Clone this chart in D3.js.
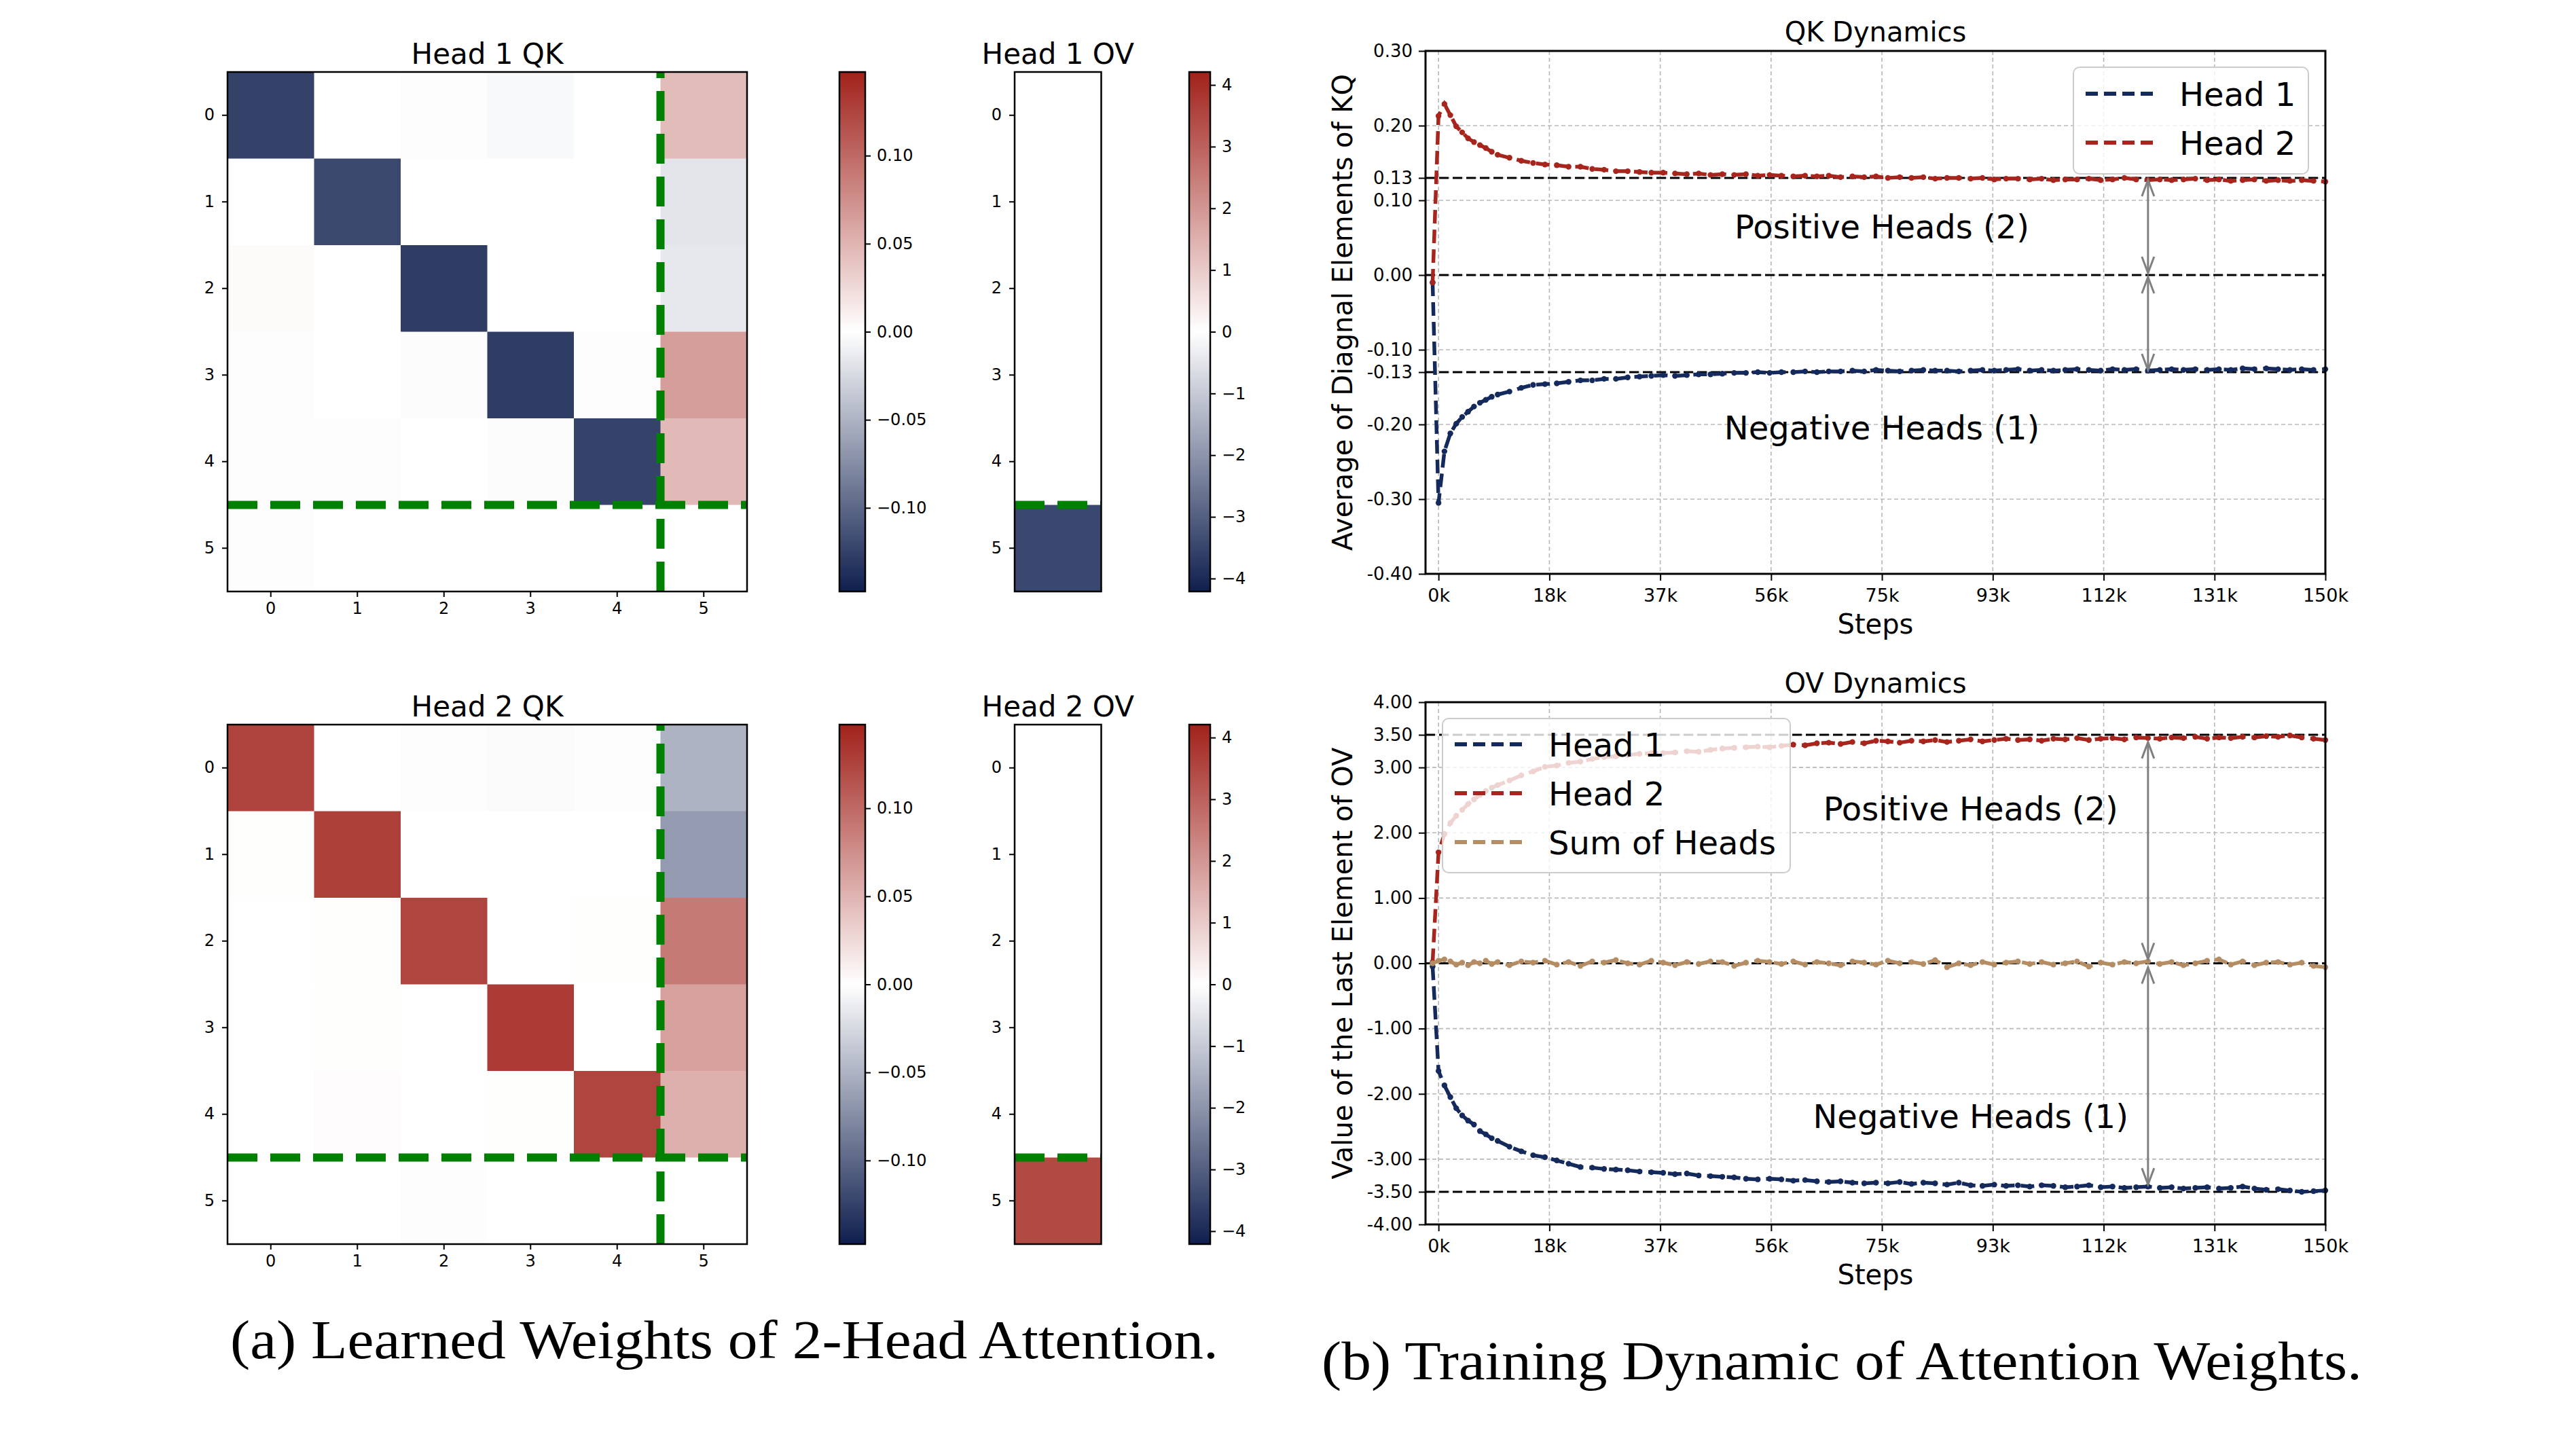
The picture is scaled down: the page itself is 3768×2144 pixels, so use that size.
<!DOCTYPE html>
<html lang="en">
<head>
<meta charset="utf-8">
<title>2-Head Attention weights</title>
<script src="https://cdn.jsdelivr.net/npm/d3@7"></script>
<style>
  body { margin: 0; background: #fff; }
  svg { display: block; font-family: "DejaVu Sans", sans-serif; }
</style>
</head>
<body>
<svg id="fig" width="3768" height="2144"></svg>
<script>
// ---- heatmap data (rows x cols) ----
const head1QK = [
  [-0.125, 0.000, -0.001, -0.004, 0.000, 0.045],
  [0.000, -0.120, 0.000, 0.000, 0.000, -0.017],
  [0.003, 0.000, -0.128, 0.000, 0.000, -0.015],
  [-0.001, 0.000, -0.002, -0.128, -0.001, 0.065],
  [-0.001, -0.001, 0.000, -0.002, -0.124, 0.047],
  [-0.001, 0.000, 0.000, 0.000, 0.000, 0.000]
];
const head2QK = [
  [0.125, 0.000, -0.001, -0.003, -0.001, -0.050],
  [0.001, 0.128, 0.000, 0.000, 0.000, -0.066],
  [0.000, 0.001, 0.124, 0.000, 0.001, 0.089],
  [0.000, 0.001, 0.000, 0.131, 0.000, 0.063],
  [0.000, 0.002, 0.000, 0.001, 0.124, 0.053],
  [0.000, 0.000, -0.001, 0.000, 0.000, 0.000]
];
const head1OV = [[0], [0], [0], [0], [0], [-3.45]];
const head2OV = [[0], [0], [0], [0], [0], [3.45]];
const qkVmax = 0.1475;
const ovVmax = 4.21;
const qkCbTicks = [0.10, 0.05, 0.00, -0.05, -0.10];
const ovCbTicks = [4, 3, 2, 1, 0, -1, -2, -3, -4];

// ---- training dynamics (steps in thousands) ----
const stepsK = [-1, 0, 1, 2, 3, 4, 5, 6, 7, 8, 9, 10, 12, 14, 16, 18, 20, 22, 24, 26, 28, 30,
  32, 34, 36, 38, 40, 42, 44, 46, 48, 50, 52, 54, 56, 58, 60, 62, 64, 66, 68, 70, 72, 74, 76,
  78, 80, 82, 84, 86, 88, 90, 92, 94, 96, 98, 100, 102, 104, 106, 108, 110, 112, 114, 116,
  118, 120, 122, 124, 126, 128, 130, 132, 134, 136, 138, 140, 142, 144, 146, 148, 150];

const qkHead1 = [-0.010, -0.305, -0.236, -0.212, -0.199, -0.190, -0.183, -0.176, -0.171, -0.167,
  -0.163, -0.160, -0.156, -0.151, -0.147, -0.146, -0.145, -0.143, -0.141, -0.141, -0.139, -0.139,
  -0.137, -0.136, -0.135, -0.134, -0.135, -0.134, -0.133, -0.133, -0.132, -0.131, -0.131, -0.130,
  -0.131, -0.130, -0.130, -0.129, -0.130, -0.129, -0.129, -0.128, -0.129, -0.127, -0.128, -0.129,
  -0.128, -0.127, -0.128, -0.128, -0.129, -0.128, -0.127, -0.128, -0.127, -0.126, -0.128, -0.127,
  -0.128, -0.127, -0.126, -0.127, -0.128, -0.126, -0.127, -0.126, -0.128, -0.127, -0.126, -0.127,
  -0.126, -0.127, -0.126, -0.127, -0.125, -0.126, -0.125, -0.126, -0.127, -0.126, -0.127, -0.126];

const qkHead2 = [-0.010, 0.213, 0.229, 0.214, 0.199, 0.191, 0.183, 0.178, 0.174, 0.170,
  0.165, 0.161, 0.157, 0.153, 0.150, 0.148, 0.147, 0.145, 0.145, 0.142, 0.141, 0.139,
  0.139, 0.138, 0.137, 0.137, 0.136, 0.135, 0.136, 0.134, 0.135, 0.134, 0.135, 0.133,
  0.134, 0.133, 0.132, 0.133, 0.132, 0.133, 0.131, 0.132, 0.131, 0.132, 0.130, 0.131,
  0.130, 0.131, 0.129, 0.130, 0.130, 0.129, 0.130, 0.128, 0.129, 0.129, 0.128, 0.129,
  0.127, 0.128, 0.128, 0.129, 0.127, 0.128, 0.130, 0.128, 0.127, 0.128, 0.127, 0.128,
  0.129, 0.127, 0.128, 0.126, 0.127, 0.128, 0.126, 0.127, 0.126, 0.127, 0.126, 0.125];

const ovHead1 = [-0.05, -1.65, -1.87, -2.05, -2.22, -2.33, -2.41, -2.47, -2.57, -2.62,
  -2.68, -2.72, -2.81, -2.88, -2.94, -2.97, -3.02, -3.07, -3.12, -3.13, -3.15, -3.16,
  -3.17, -3.19, -3.20, -3.21, -3.23, -3.22, -3.25, -3.26, -3.27, -3.28, -3.30, -3.31,
  -3.30, -3.31, -3.33, -3.32, -3.34, -3.35, -3.34, -3.36, -3.37, -3.36, -3.37, -3.35,
  -3.38, -3.36, -3.37, -3.39, -3.36, -3.40, -3.41, -3.39, -3.41, -3.40, -3.42, -3.40,
  -3.41, -3.43, -3.42, -3.40, -3.43, -3.42, -3.44, -3.43, -3.42, -3.44, -3.43, -3.45,
  -3.44, -3.43, -3.45, -3.44, -3.42, -3.45, -3.47, -3.46, -3.48, -3.50, -3.49, -3.48];

const ovHead2 = [0.02, 1.70, 1.98, 2.15, 2.26, 2.35, 2.44, 2.51, 2.58, 2.64,
  2.69, 2.73, 2.80, 2.88, 2.94, 3.01, 3.03, 3.07, 3.09, 3.13, 3.16, 3.17,
  3.19, 3.21, 3.22, 3.22, 3.23, 3.25, 3.24, 3.27, 3.29, 3.30, 3.31, 3.32,
  3.31, 3.33, 3.35, 3.34, 3.37, 3.38, 3.36, 3.39, 3.37, 3.41, 3.40, 3.38,
  3.41, 3.40, 3.42, 3.39, 3.41, 3.43, 3.40, 3.42, 3.44, 3.42, 3.43, 3.41,
  3.44, 3.43, 3.45, 3.42, 3.44, 3.45, 3.43, 3.46, 3.45, 3.44, 3.46, 3.45,
  3.47, 3.44, 3.46, 3.45, 3.47, 3.46, 3.48, 3.47, 3.49, 3.46, 3.44, 3.42];

const ovSum = [0.00, 0.04, 0.06, 0.03, -0.02, 0.01, -0.03, 0.02, 0.00, 0.04,
  -0.01, 0.02, -0.03, 0.03, 0.01, 0.04, -0.02, 0.02, -0.04, 0.03, 0.01, 0.05,
  0.00, -0.02, 0.04, 0.01, -0.03, 0.02, -0.01, 0.03, 0.02, -0.04, 0.01, 0.04,
  0.02, -0.01, 0.03, -0.02, 0.02, 0.00, -0.03, 0.03, 0.01, -0.02, 0.04, 0.00,
  0.02, -0.01, 0.05, -0.06, 0.00, -0.03, 0.02, -0.02, 0.01, 0.03, -0.01, 0.02,
  -0.02, 0.00, 0.03, -0.05, 0.01, -0.02, 0.02, 0.00, 0.03, -0.01, 0.02, -0.03,
  0.00, 0.04, 0.06, -0.02, 0.03, -0.03, 0.01, 0.02, -0.02, 0.01, -0.04, -0.06];

const xTickVals = [0, 18.75, 37.5, 56.25, 75, 93.75, 112.5, 131.25, 150];
const xTickLabels = ["0k", "18k", "37k", "56k", "75k", "93k", "112k", "131k", "150k"];
const qkYTicks = [0.30, 0.20, 0.13, 0.10, 0.00, -0.10, -0.13, -0.20, -0.30, -0.40];
const ovYTicks = [4, 3.5, 3, 2, 1, 0, -1, -2, -3, -3.5, -4];
const qkRefLines = [0.13, 0, -0.13];
const ovRefLines = [3.5, 0, -3.5];

// ---- styling ----
const NAVY = "#0f1f4e", RED = "#a1221b";
const LINE_NAVY = "#14295c", LINE_RED = "#a8251d", LINE_TAN = "#b58d64";
const GREEN = "#008000";
const CELL = 127.5;
const ROW_TOP = [106, 1067];

const svg = d3.select("#fig");
const defs = svg.append("defs");
const grad = defs.append("linearGradient").attr("id", "cmap")
  .attr("x1", 0).attr("y1", 1).attr("x2", 0).attr("y2", 0);
grad.append("stop").attr("offset", "0%").attr("stop-color", NAVY);
grad.append("stop").attr("offset", "50%").attr("stop-color", "#ffffff");
grad.append("stop").attr("offset", "100%").attr("stop-color", RED);

function styleAxis(sel, size) {
  sel.select(".domain").remove();
  sel.selectAll(".tick line").attr("stroke", "#000").attr("stroke-width", 2);
  sel.selectAll(".tick text").attr("font-size", size).attr("fill", "#000")
    .attr("font-family", "DejaVu Sans");
}

function heatmap(mat, left, top, vmax, title, showX) {
  const g = svg.append("g");
  const nR = mat.length, nC = mat[0].length;
  const x = d3.scaleBand().domain(d3.range(nC)).range([left, left + nC * CELL]);
  const y = d3.scaleBand().domain(d3.range(nR)).range([top, top + nR * CELL]);
  const color = d3.scaleLinear().domain([-vmax, 0, vmax]).range([NAVY, "#ffffff", RED]);
  const cells = [];
  mat.forEach((row, r) => row.forEach((v, c) => cells.push({ r, c, v })));
  g.selectAll("rect.cell").data(cells).join("rect").attr("class", "cell")
    .attr("x", d => x(d.c)).attr("y", d => y(d.r))
    .attr("width", x.bandwidth() + 0.5).attr("height", y.bandwidth() + 0.5)
    .attr("fill", d => color(d.v));

  const right = left + nC * CELL, bottom = top + nR * CELL;
  // green separators between the last row / column
  g.append("line").attr("x1", left).attr("x2", right)
    .attr("y1", y(nR - 1)).attr("y2", y(nR - 1))
    .attr("stroke", GREEN).attr("stroke-width", 12).attr("stroke-dasharray", "44,19");
  if (nC > 1) {
    g.append("line").attr("x1", x(nC - 1)).attr("x2", x(nC - 1))
      .attr("y1", bottom).attr("y2", top)
      .attr("stroke", GREEN).attr("stroke-width", 12).attr("stroke-dasharray", "44,19");
  }
  g.append("rect").attr("x", left).attr("y", top)
    .attr("width", right - left).attr("height", bottom - top)
    .attr("fill", "none").attr("stroke", "#000").attr("stroke-width", 2.5);

  const ax = g.append("g").attr("transform", `translate(${left},0)`)
    .call(d3.axisLeft(y).tickSize(8).tickPadding(11));
  styleAxis(ax, 24);
  if (showX) {
    const bx = g.append("g").attr("transform", `translate(0,${bottom})`)
      .call(d3.axisBottom(x).tickSize(8).tickPadding(8));
    styleAxis(bx, 24);
  }
  g.append("text").attr("x", (left + right) / 2).attr("y", top - 12)
    .attr("text-anchor", "middle").attr("font-size", 42).text(title);
}

function colorbar(left, top, w, vmax, ticks, fmt) {
  const h = 6 * CELL;
  const g = svg.append("g");
  g.append("rect").attr("x", left).attr("y", top).attr("width", w).attr("height", h)
    .attr("fill", "url(#cmap)").attr("stroke", "#000").attr("stroke-width", 2.5);
  const cy = d3.scaleLinear().domain([-vmax, vmax]).range([top + h, top]);
  const ax = g.append("g").attr("transform", `translate(${left + w},0)`)
    .call(d3.axisRight(cy).tickValues(ticks).tickFormat(fmt).tickSize(8).tickPadding(9));
  styleAxis(ax, 24);
}

// ---- panel (a) ----
[[head1QK, head1OV, "Head 1"], [head2QK, head2OV, "Head 2"]].forEach(([qk, ov, name], i) => {
  const top = ROW_TOP[i];
  heatmap(qk, 335, top, qkVmax, name + " QK", true);
  colorbar(1236, top, 38, qkVmax, qkCbTicks, d3.format(".2f"));
  heatmap(ov, 1494, top, ovVmax, name + " OV", false);
  colorbar(1751, top, 31, ovVmax, ovCbTicks, d3.format("d"));
});

// ---- panel (b) ----
const DYN_LEFT = 2099, DYN_RIGHT = 3424;

function dynamics(cfg) {
  const g = svg.append("g");
  const xs = d3.scaleLinear().domain([-2.2, 150]).range([DYN_LEFT, DYN_RIGHT]);
  const ys = d3.scaleLinear().domain(cfg.yDomain).range([cfg.bottom, cfg.top]);

  // grid
  g.append("g").selectAll("line").data(xTickVals).join("line")
    .attr("x1", d => xs(d)).attr("x2", d => xs(d)).attr("y1", cfg.top).attr("y2", cfg.bottom)
    .attr("stroke", "#b8b8b8").attr("stroke-width", 1.6).attr("stroke-dasharray", "6,4");
  g.append("g").selectAll("line").data(cfg.yTicks).join("line")
    .attr("x1", DYN_LEFT).attr("x2", DYN_RIGHT).attr("y1", d => ys(d)).attr("y2", d => ys(d))
    .attr("stroke", "#b8b8b8").attr("stroke-width", 1.6).attr("stroke-dasharray", "6,4");

  // reference lines
  g.append("g").selectAll("line").data(cfg.refLines).join("line")
    .attr("x1", DYN_LEFT).attr("x2", DYN_RIGHT).attr("y1", d => ys(d)).attr("y2", d => ys(d))
    .attr("stroke", "#000").attr("stroke-width", 3).attr("stroke-dasharray", "14,6");

  // series
  const line = d3.line().x(d => xs(d[0])).y(d => ys(d[1]));
  cfg.series.forEach(s => {
    const pts = stepsK.map((k, i) => [k, s.vals[i]]);
    g.append("path").datum(pts).attr("d", line).attr("fill", "none")
      .attr("stroke", s.color).attr("stroke-width", 5.5).attr("stroke-dasharray", "20,9");
    g.append("g").selectAll("circle").data(pts).join("circle")
      .attr("cx", d => xs(d[0])).attr("cy", d => ys(d[1])).attr("r", 4.2)
      .attr("fill", s.color);
  });

  // legend
  const L = cfg.legend;
  g.append("rect").attr("x", L.x).attr("y", L.y).attr("width", L.w).attr("height", L.h)
    .attr("rx", 9).attr("fill", "#fff").attr("fill-opacity", 0.8)
    .attr("stroke", "#cccccc").attr("stroke-width", 2);
  cfg.series.forEach((s, i) => {
    const ly = L.y + L.first + i * 72;
    g.append("line").attr("x1", L.x + 18).attr("x2", L.x + 117).attr("y1", ly).attr("y2", ly)
      .attr("stroke", s.color).attr("stroke-width", 6).attr("stroke-dasharray", "18,9");
    g.append("text").attr("x", L.x + 156).attr("y", ly + 18).attr("font-size", 48).text(s.name);
  });

  // arrows between the reference levels
  const ax = xs(120);
  cfg.arrows.forEach(([a, b]) => {
    const y1 = Math.min(ys(a), ys(b)) + cfg.shrink, y2 = Math.max(ys(a), ys(b)) - cfg.shrink;
    const ag = g.append("g").attr("stroke", "#808080").attr("stroke-width", 3).attr("fill", "none");
    ag.append("line").attr("x1", ax).attr("x2", ax).attr("y1", y1).attr("y2", y2);
    ag.append("polyline").attr("points", `${ax - 9},${y1 + 24} ${ax},${y1} ${ax + 9},${y1 + 24}`);
    ag.append("polyline").attr("points", `${ax - 9},${y2 - 24} ${ax},${y2} ${ax + 9},${y2 - 24}`);
  });

  // annotations
  cfg.notes.forEach(n => {
    g.append("text").attr("x", xs(n.x)).attr("y", ys(n.y)).attr("dy", "0.36em")
      .attr("text-anchor", "middle").attr("font-size", 48).text(n.text);
  });

  // frame and axes
  g.append("rect").attr("x", DYN_LEFT).attr("y", cfg.top)
    .attr("width", DYN_RIGHT - DYN_LEFT).attr("height", cfg.bottom - cfg.top)
    .attr("fill", "none").attr("stroke", "#000").attr("stroke-width", 3);
  const bx = g.append("g").attr("transform", `translate(0,${cfg.bottom})`)
    .call(d3.axisBottom(xs).tickValues(xTickVals).tickFormat((d, i) => xTickLabels[i])
      .tickSize(10).tickPadding(12));
  styleAxis(bx, 27);
  const lx = g.append("g").attr("transform", `translate(${DYN_LEFT},0)`)
    .call(d3.axisLeft(ys).tickValues(cfg.yTicks).tickFormat(d => d.toFixed(2))
      .tickSize(10).tickPadding(9));
  styleAxis(lx, 26);

  g.append("text").attr("x", (DYN_LEFT + DYN_RIGHT) / 2).attr("y", cfg.top - 14)
    .attr("text-anchor", "middle").attr("font-size", 40).text(cfg.title);
  g.append("text").attr("x", (DYN_LEFT + DYN_RIGHT) / 2).attr("y", cfg.bottom + 88)
    .attr("text-anchor", "middle").attr("font-size", 40).text("Steps");
  g.append("text")
    .attr("transform", `translate(1991,${(cfg.top + cfg.bottom) / 2}) rotate(-90)`)
    .attr("text-anchor", "middle").attr("font-size", 40).text(cfg.ylabel);
}

dynamics({
  top: 75, bottom: 845, yDomain: [-0.4, 0.3], yTicks: qkYTicks, refLines: qkRefLines,
  title: "QK Dynamics", ylabel: "Average of Diagnal Elements of KQ",
  series: [
    { name: "Head 1", vals: qkHead1, color: LINE_NAVY },
    { name: "Head 2", vals: qkHead2, color: LINE_RED }
  ],
  legend: { x: 3053, y: 99, w: 346, h: 157, first: 39 },
  arrows: [[0.13, 0], [0, -0.13]], shrink: 3,
  notes: [
    { x: 75, y: 0.065, text: "Positive Heads (2)" },
    { x: 75, y: -0.2045, text: "Negative Heads (1)" }
  ]
});

dynamics({
  top: 1034, bottom: 1803, yDomain: [-4, 4], yTicks: ovYTicks, refLines: ovRefLines,
  title: "OV Dynamics", ylabel: "Value of the Last Element of OV",
  series: [
    { name: "Head 1", vals: ovHead1, color: LINE_NAVY },
    { name: "Head 2", vals: ovHead2, color: LINE_RED },
    { name: "Sum of Heads", vals: ovSum, color: LINE_TAN }
  ],
  legend: { x: 2124, y: 1058, w: 512, h: 227, first: 38 },
  arrows: [[3.45, 0], [0, -3.45]], shrink: 6,
  notes: [
    { x: 90, y: 2.37, text: "Positive Heads (2)" },
    { x: 90, y: -2.34, text: "Negative Heads (1)" }
  ]
});

// ---- captions ----
svg.append("text").attr("x", 339).attr("y", 2000).attr("font-family", "Liberation Serif")
  .attr("font-size", 80).attr("textLength", 1455).attr("lengthAdjust", "spacingAndGlyphs")
  .text("(a) Learned Weights of 2-Head Attention.");
svg.append("text").attr("x", 1946).attr("y", 2031).attr("font-family", "Liberation Serif")
  .attr("font-size", 80).attr("textLength", 1532).attr("lengthAdjust", "spacingAndGlyphs")
  .text("(b) Training Dynamic of Attention Weights.");
</script>
</body>
</html>
